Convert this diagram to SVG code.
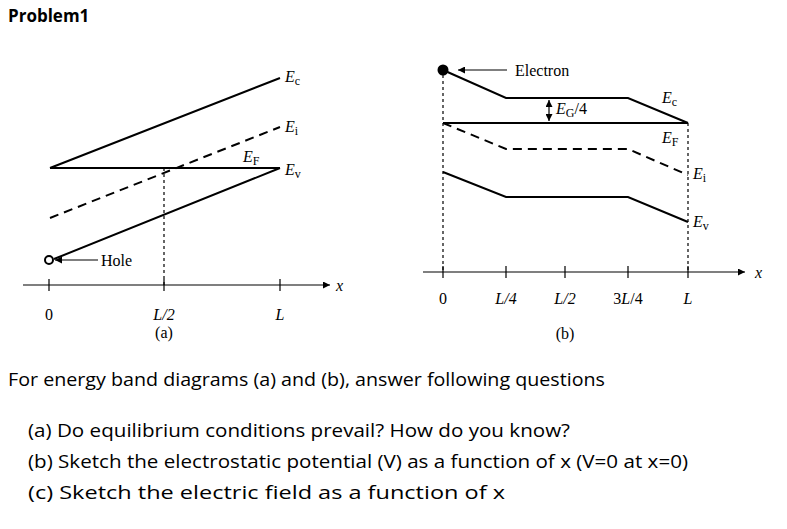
<svg xmlns="http://www.w3.org/2000/svg" width="787" height="529" viewBox="0 0 787 529">
<defs>
<marker id="ar" viewBox="0 0 10 10" refX="10" refY="5" markerWidth="9" markerHeight="7" orient="auto-start-reverse" markerUnits="userSpaceOnUse"><path d="M0,0 L10,5 L0,10 Z" fill="#000"/></marker>
</defs>
<style>
.l{stroke:#000;stroke-width:2;fill:none}
.d{stroke:#000;stroke-width:2;fill:none;stroke-dasharray:9,6}
.v{stroke:#000;stroke-width:1.2;fill:none;stroke-dasharray:3,3}
.a{stroke:#000;stroke-width:1.2;fill:none}
.t{font-family:"Liberation Serif",serif;font-size:16px;fill:#000}
.i{font-style:italic}
.q{font-family:"Open Sans",sans-serif;font-size:19px;fill:#000}
</style>
<rect width="787" height="529" fill="#fff"/>
<text x="8" y="22" font-family="Open Sans,sans-serif" font-weight="bold" font-size="17">Problem1</text>
<g id="diagram-a">
<path class="l" d="M50,168 L280,78 M50,168 L280,168 M54,259 L280,168"/>
<path class="d" d="M50,218 L280,127"/>
<path class="v" d="M164,168 V285"/>
<circle cx="49" cy="260" r="4" fill="#fff" stroke="#000" stroke-width="2"/>
<path class="a" d="M98,260 H55" marker-end="url(#ar)"/>
<text class="t" x="101" y="266">Hole</text>
<path class="a" d="M23,285 H330" marker-end="url(#ar)"/>
<path class="a" d="M49,279 V291 M164,279 V291 M280,279 V291"/>
<text class="t i" x="336" y="291">x</text>
<text class="t" x="49" y="320" text-anchor="middle">0</text>
<text class="t i" x="164" y="320" text-anchor="middle">L/2</text>
<text class="t i" x="280" y="320" text-anchor="middle">L</text>
<text class="t" x="164" y="338" text-anchor="middle">(a)</text>
<text class="t i" x="285" y="82">E<tspan font-size="12" font-style="normal" dy="3">c</tspan></text>
<text class="t i" x="285" y="132">E<tspan font-size="12" font-style="normal" dy="3">i</tspan></text>
<text class="t i" x="243" y="162">E<tspan font-size="12" font-style="normal" dy="3">F</tspan></text>
<text class="t i" x="285" y="175">E<tspan font-size="12" font-style="normal" dy="3">v</tspan></text>
</g>
<g id="diagram-b">
<path class="l" d="M443,70 L506,98 H628 L688,123 M443,123 H688 M443,172 L506,197 H628 L688,222"/>
<path class="d" d="M443,123 L506,149 H628 L688,175"/>
<path class="v" d="M443,75 V272 M688,123 V272"/>
<circle cx="443" cy="70" r="5.5" fill="#000"/>
<path class="a" d="M507,70 H458" marker-end="url(#ar)"/>
<text class="t" x="515" y="76">Electron</text>
<path class="a" d="M549,100 V121" marker-start="url(#ar)" marker-end="url(#ar)"/>
<text class="t i" x="556" y="114">E<tspan font-size="12" font-style="normal" dy="3">G</tspan><tspan font-style="normal" dy="-3">/4</tspan></text>
<text class="t i" x="662" y="103">E<tspan font-size="12" font-style="normal" dy="3">c</tspan></text>
<text class="t i" x="662" y="143">E<tspan font-size="12" font-style="normal" dy="3">F</tspan></text>
<text class="t i" x="693" y="179">E<tspan font-size="12" font-style="normal" dy="3">i</tspan></text>
<text class="t i" x="693" y="227">E<tspan font-size="12" font-style="normal" dy="3">v</tspan></text>
<path class="a" d="M423,272 H745" marker-end="url(#ar)"/>
<path class="a" d="M443,266 V278 M506,266 V278 M565,266 V278 M628,266 V278 M688,266 V278"/>
<text class="t i" x="755" y="278">x</text>
<text class="t" x="443" y="304" text-anchor="middle">0</text>
<text class="t i" x="506" y="304" text-anchor="middle">L/4</text>
<text class="t i" x="565" y="304" text-anchor="middle">L/2</text>
<text class="t" x="628" y="304" text-anchor="middle">3<tspan font-style="italic">L</tspan>/4</text>
<text class="t i" x="688" y="304" text-anchor="middle">L</text>
<text class="t" x="565" y="339" text-anchor="middle">(b)</text>
</g>
<text class="q" x="8" y="386" textLength="597" lengthAdjust="spacingAndGlyphs">For energy band diagrams (a) and (b), answer following questions</text>
<text class="q" x="28" y="437" textLength="542" lengthAdjust="spacingAndGlyphs">(a)  Do equilibrium conditions prevail? How do you know?</text>
<text class="q" x="28" y="468" textLength="660" lengthAdjust="spacingAndGlyphs">(b)  Sketch the electrostatic potential (V) as a function of x (V=0 at x=0)</text>
<text class="q" x="28" y="499" textLength="477" lengthAdjust="spacingAndGlyphs">(c)  Sketch the electric field as a function of x</text>
</svg>
